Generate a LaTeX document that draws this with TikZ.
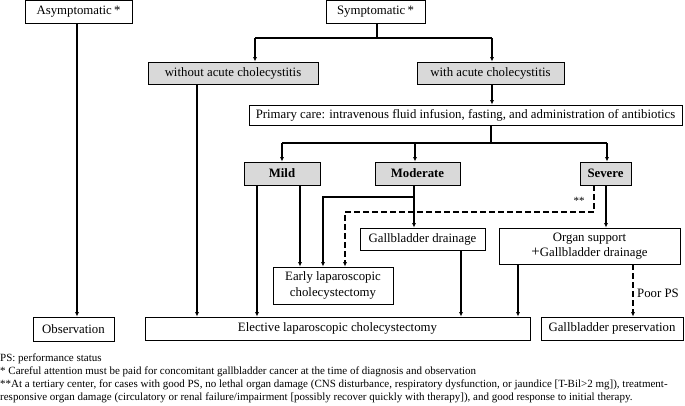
\documentclass[tikz,border=0pt]{standalone}
\usepackage{fontspec}
\setmainfont{Liberation Serif}
\usetikzlibrary{arrows.meta}
\tikzset{
  box/.style={draw=black,line width=0.8pt,inner sep=0pt,align=center,font=\fontsize{12.8}{15.5}\selectfont},
  graybox/.style={box,fill=black!15},
  conn/.style={line width=1.3pt},
  arr/.style={conn,-{Latex[length=4.5pt,width=4pt]}},
  darr/.style={arr,dash pattern=on 5.5pt off 3.5pt},
  foot/.style={anchor=west,inner sep=0pt,font=\fontsize{11}{13}\selectfont}
}
\begin{document}
\begin{tikzpicture}[x=1pt,y=-1pt]
\useasboundingbox (0,0) rectangle (685,405);
% boxes
\node[box,minimum width=107,minimum height=22.5] (asym) at (78.5,11.9) {Asymptomatic\,*};
\node[box,minimum width=99,minimum height=22.5] (sym) at (375.5,11.9) {Symptomatic\,*};
\node[graybox,minimum width=170,minimum height=22] (without) at (233,73) {without acute cholecystitis};
\node[graybox,minimum width=147,minimum height=22] (with) at (490.5,73) {with acute cholecystitis};
\node[box,minimum width=433,minimum height=20] (primary) at (465.5,115) {Primary care: intravenous fluid infusion, fasting, and administration of antibiotics};
\node[graybox,minimum width=76,minimum height=23] (mild) at (282,173.5) {\textbf{Mild}};
\node[graybox,minimum width=85,minimum height=23] (moderate) at (417.5,173.5) {\textbf{Moderate}};
\node[graybox,minimum width=51,minimum height=23] (severe) at (605.5,173.5) {\textbf{Severe}};
\node[box,minimum width=125,minimum height=22] (gbd) at (422.5,239) {Gallbladder drainage};
\node[box,minimum width=120,minimum height=37] (early) at (333,285.5) {Early laparoscopic\\cholecystectomy};
\node[box,minimum width=181,minimum height=36] (organ) at (589.5,246) {Organ support\\{\fontsize{15}{15.5}\selectfont+}Gallbladder drainage};
\node[box,minimum width=81,minimum height=24] (obs) at (73.5,329) {Observation};
\node[box,minimum width=385,minimum height=23] (elective) at (337.5,328.5) {Elective laparoscopic cholecystectomy};
\node[box,minimum width=142,minimum height=23] (gbp) at (612,328.5) {Gallbladder preservation};
% junction coordinates
\coordinate (symj) at (377,38);
\coordinate (symL) at (255,38);
\coordinate (symR) at (492,38);
\coordinate (prj) at (491,143);
\coordinate (prL) at (282,143);
\coordinate (prR) at (607,143);
\coordinate (modj) at (414,197);
\coordinate (modL) at (323,197);
\coordinate (sevj) at (594,212);
\coordinate (sevL) at (345,212);
% connectors
\draw[arr] (asym.south -| 77,0) -- (obs.north -| 77,0);
\draw[conn] (sym.south -| symj) -- (symj);
\draw[arr] (symL) -- (without.north -| symL);
\draw[conn] (symL) -- (symR);
\draw[arr] (symR) -- (with.north -| symR);
\draw[arr] (with.south -| 492,0) -- (primary.north -| 492,0);
\draw[conn] (primary.south -| prj) -- (prj);
\draw[conn] (prL) -- (prR);
\draw[arr] (prL) -- (mild.north -| prL);
\draw[arr] (prj -| 415,0) -- (moderate.north -| 415,0);
\draw[arr] (prR) -- (severe.north -| prR);
\draw[arr] (without.south -| 197,0) -- (elective.north -| 197,0);
\draw[arr] (mild.south -| 257,0) -- (elective.north -| 257,0);
\draw[arr] (mild.south -| 300,0) -- (early.north -| 300,0);
\draw[arr] (moderate.south -| modj) -- (gbd.north -| modj);
\draw[arr] (modj) -- (modL) -- (early.north -| modL);
\draw[darr] (severe.south -| sevj) -- (sevj) -- (sevL) -- (early.north -| sevL);
\node[inner sep=0pt,font=\fontsize{11}{12}\selectfont] (dstar) at (579,201) {**};
\draw[arr] (severe.south -| 606,0) -- (organ.north -| 606,0);
\draw[arr] (gbd.south -| 461,0) -- (elective.north -| 461,0);
\draw[arr] (organ.south -| 518,0) -- (elective.north -| 518,0);
\draw[darr] (organ.south -| 633,0) -- (gbp.north -| 633,0);
\node[anchor=west,inner sep=0pt,font=\fontsize{12.8}{15}\selectfont] (poor) at (637,293) {Poor PS};
% footnotes
\node[foot] (f1) at (0,359) {PS: performance status};
\node[foot] (f2) at (0,372) {* Careful attention must be paid for concomitant gallbladder cancer at the time of diagnosis and observation};
\node[foot] (f3) at (0,385) {**At a tertiary center, for cases with good PS, no lethal organ damage (CNS disturbance, respiratory dysfunction, or jaundice [T-Bil>2 mg]), treatment-};
\node[foot] (f4) at (0,398) {responsive organ damage (circulatory or renal failure/impairment [possibly recover quickly with therapy]), and good response to initial therapy.};
\end{tikzpicture}
\end{document}
